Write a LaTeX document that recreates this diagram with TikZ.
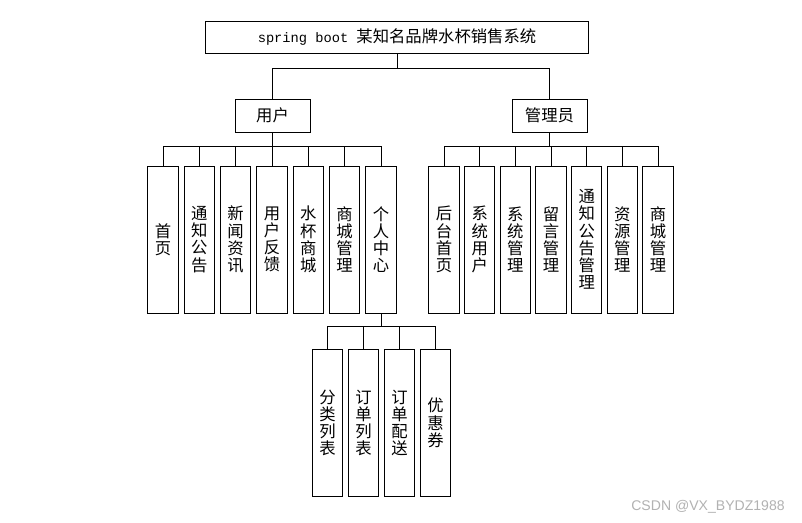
\documentclass[tikz,border=0pt]{standalone}
\usepackage{fontspec}
\newfontfamily\cjk{Noto Sans CJK SC}
\newfontfamily\latinmono{Liberation Mono}
\newfontfamily\wmfont{Liberation Sans}

\tikzset{
  topbox/.style={draw, inner sep=0pt, minimum width=7.68cm, minimum height=0.64cm},
  rolebox/.style={draw, inner sep=0pt, minimum width=1.5cm, minimum height=0.66cm},
  leafbox/.style={draw, inner sep=0pt, minimum width=0.61cm, minimum height=2.94cm, align=center}
}

\begin{document}
\begin{tikzpicture}[x=0.02cm, y=-0.02cm, line width=0.55pt,
    font={\cjk\fontsize{9.3pt}{9.8pt}\selectfont}]
      \path[fill=white, use as bounding box] (0,0) rectangle (802,522);

      \coordinate (bus1) at (0,68);
      \coordinate (bus2) at (0,146.5);
      \coordinate (bus3) at (0,326);

      \node[topbox] (root) at (397,37) {{\latinmono\fontsize{7.8pt}{9pt}\selectfont spring boot\ }某知名品牌水杯销售系统};
      \node[rolebox] (user) at (272.5,115.5) {用户};
      \node[rolebox] (admin) at (549.5,115.5) {管理员};

      % user side
      \node[leafbox] (u1) at (163,239.5) {首\\页};
      \node[leafbox] (u2) at (199.3,239.5) {通\\知\\公\\告};
      \node[leafbox] (u3) at (235.6,239.5) {新\\闻\\资\\讯};
      \node[leafbox] (u4) at (272,239.5) {用\\户\\反\\馈};
      \node[leafbox] (u5) at (308.3,239.5) {水\\杯\\商\\城};
      \node[leafbox] (u6) at (344.6,239.5) {商\\城\\管\\理};
      \node[leafbox] (u7) at (381,239.5) {个\\人\\中\\心};

      % admin side
      \node[leafbox] (a1) at (444,239.5) {后\\台\\首\\页};
      \node[leafbox] (a2) at (479.7,239.5) {系\\统\\用\\户};
      \node[leafbox] (a3) at (515.3,239.5) {系\\统\\管\\理};
      \node[leafbox] (a4) at (551,239.5) {留\\言\\管\\理};
      \node[leafbox] (a5) at (586.7,239.5) {通\\知\\公\\告\\管\\理};
      \node[leafbox] (a6) at (622.3,239.5) {资\\源\\管\\理};
      \node[leafbox] (a7) at (658,239.5) {商\\城\\管\\理};

      % personal centre
      \node[leafbox] (p1) at (327.5,423) {分\\类\\列\\表};
      \node[leafbox] (p2) at (363.5,423) {订\\单\\列\\表};
      \node[leafbox] (p3) at (399.5,423) {订\\单\\配\\送};
      \node[leafbox] (p4) at (435.5,423) {优\\惠\\券};

      \node[text=black!30, font={\wmfont\fontsize{8pt}{10pt}\selectfont}] (wm) at (708,507) {CSDN @VX\_BYDZ1988};

      \draw (root.south) |- (user.north |- bus1) -- (user.north);
      \draw (root.south) |- (admin.north |- bus1) -- (admin.north);
      \foreach \i in {1,...,7} {
        \draw (user.south) |- (u\i.north |- bus2) -- (u\i.north);
        \draw (admin.south) |- (a\i.north |- bus2) -- (a\i.north);
      }
      \foreach \i in {1,...,4}
        \draw (u7.south) |- (p\i.north |- bus3) -- (p\i.north);
\end{tikzpicture}
\end{document}
